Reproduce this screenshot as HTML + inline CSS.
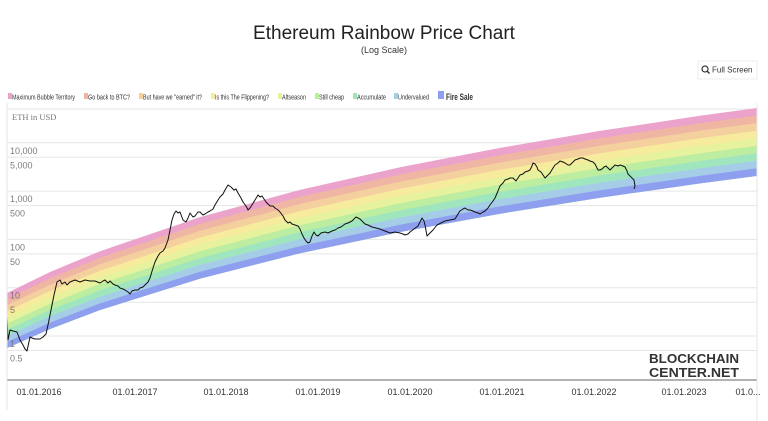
<!DOCTYPE html>
<html><head><meta charset="utf-8"><style>
html,body{margin:0;padding:0;background:#fff;width:768px;height:421px;overflow:hidden;font-family:"Liberation Sans",Arial,sans-serif}
svg{position:absolute;left:0;top:0}
</style></head><body>
<svg width="768" height="421" viewBox="0 0 768 421" xmlns="http://www.w3.org/2000/svg" font-family="Liberation Sans, Arial, sans-serif">
<text x="384" y="39" text-anchor="middle" font-size="19" fill="#222">Ethereum Rainbow Price Chart</text>
<text x="384" y="53" text-anchor="middle" font-size="9" fill="#333">(Log Scale)</text>
<rect x="698" y="61" width="59" height="18" fill="#fff" stroke="#eee"/>
<circle cx="705" cy="69" r="3" fill="none" stroke="#333" stroke-width="1.2"/>
<line x1="707" y1="71" x2="709.5" y2="73.5" stroke="#333" stroke-width="1.4"/>
<text x="712" y="72.5" font-size="8" fill="#333">Full Screen</text>

<g font-size="7" fill="#333" lengthAdjust="spacingAndGlyphs">
<rect x="8" y="93" width="4" height="6" fill="#eba3cb"/><text x="12" y="99.5" textLength="63" lengthAdjust="spacingAndGlyphs">Maximum Bubble Territory</text>
<rect x="84" y="93" width="4" height="6" fill="#f0b6a4"/><text x="88" y="99.5" textLength="42" lengthAdjust="spacingAndGlyphs">Go back to BTC?</text>
<rect x="139" y="93" width="4" height="6" fill="#f5d09f"/><text x="143" y="99.5" textLength="59" lengthAdjust="spacingAndGlyphs">But have we "earned" it?</text>
<rect x="211" y="93" width="4" height="6" fill="#f7eb9e"/><text x="215" y="99.5" textLength="54" lengthAdjust="spacingAndGlyphs">Is this The Flippening?</text>
<rect x="278" y="93" width="4" height="6" fill="#e6f29e"/><text x="282" y="99.5" textLength="24" lengthAdjust="spacingAndGlyphs">Altseason</text>
<rect x="315" y="93" width="4" height="6" fill="#bdeda0"/><text x="319" y="99.5" textLength="25" lengthAdjust="spacingAndGlyphs">Still cheap</text>
<rect x="353" y="93" width="4" height="6" fill="#9fe6bf"/><text x="357" y="99.5" textLength="29" lengthAdjust="spacingAndGlyphs">Accumulate</text>
<rect x="394" y="93" width="4" height="6" fill="#a6cde8"/><text x="398" y="99.5" textLength="31" lengthAdjust="spacingAndGlyphs">Undervalued</text>
<rect x="438" y="91" width="6" height="8" fill="#8f9ff0"/><text x="446" y="100" font-size="9" font-weight="bold" textLength="27" lengthAdjust="spacingAndGlyphs">Fire Sale</text>
</g>

<g stroke="#e6e6e6">
<line x1="7" y1="109" x2="757" y2="109"/>
<line x1="7" y1="142.8" x2="757" y2="142.8"/><line x1="7" y1="157.3" x2="757" y2="157.3"/>
<line x1="7" y1="191.1" x2="757" y2="191.1"/><line x1="7" y1="205.6" x2="757" y2="205.6"/>
<line x1="7" y1="239.4" x2="757" y2="239.4"/><line x1="7" y1="253.9" x2="757" y2="253.9"/>
<line x1="7" y1="287.7" x2="757" y2="287.7"/><line x1="7" y1="302.2" x2="757" y2="302.2"/>
<line x1="7" y1="336" x2="757" y2="336"/><line x1="7" y1="350.5" x2="757" y2="350.5"/>
</g>

<g>
<polygon fill="#eba3cb" points="7,293.0 50,272.0 100,251.2 200,217.1 300,189.9 400,167.3 500,147.9 600,130.9 700,115.8 757,108.0 757,175.9 700,183.4 600,197.7 500,213.7 400,232.0 300,253.2 200,278.6 100,310.0 50,329.0 7,348.0"/>
<polygon fill="#f0b6a4" points="7,299.1 50,278.3 100,257.7 200,223.9 300,196.9 400,174.5 500,155.2 600,138.3 700,123.3 757,115.5 757,175.9 700,183.4 600,197.7 500,213.7 400,232.0 300,253.2 200,278.6 100,310.0 50,329.0 7,348.0"/>
<polygon fill="#f5d09f" points="7,305.2 50,284.7 100,264.3 200,230.8 300,204.0 400,181.7 500,162.5 600,145.7 700,130.8 757,123.1 757,175.9 700,183.4 600,197.7 500,213.7 400,232.0 300,253.2 200,278.6 100,310.0 50,329.0 7,348.0"/>
<polygon fill="#f7eb9e" points="7,311.3 50,291.0 100,270.8 200,237.6 300,211.0 400,188.9 500,169.8 600,153.2 700,138.3 757,130.6 757,175.9 700,183.4 600,197.7 500,213.7 400,232.0 300,253.2 200,278.6 100,310.0 50,329.0 7,348.0"/>
<polygon fill="#e6f29e" points="7,317.4 50,297.3 100,277.3 200,244.4 300,218.0 400,196.1 500,177.1 600,160.6 700,145.8 757,138.2 757,175.9 700,183.4 600,197.7 500,213.7 400,232.0 300,253.2 200,278.6 100,310.0 50,329.0 7,348.0"/>
<polygon fill="#bdeda0" points="7,323.6 50,303.7 100,283.9 200,251.3 300,225.1 400,203.3 500,184.5 600,168.0 700,153.4 757,145.7 757,175.9 700,183.4 600,197.7 500,213.7 400,232.0 300,253.2 200,278.6 100,310.0 50,329.0 7,348.0"/>
<polygon fill="#9fe6bf" points="7,329.7 50,310.0 100,290.4 200,258.1 300,232.1 400,210.4 500,191.8 600,175.4 700,160.9 757,153.2 757,175.9 700,183.4 600,197.7 500,213.7 400,232.0 300,253.2 200,278.6 100,310.0 50,329.0 7,348.0"/>
<polygon fill="#a6cde8" points="7,335.8 50,316.3 100,296.9 200,264.9 300,239.1 400,217.6 500,199.1 600,182.8 700,168.4 757,160.8 757,175.9 700,183.4 600,197.7 500,213.7 400,232.0 300,253.2 200,278.6 100,310.0 50,329.0 7,348.0"/>
<polygon fill="#8f9ff0" points="7,341.9 50,322.6 100,303.4 200,271.7 300,246.1 400,224.8 500,206.4 600,190.3 700,175.9 757,168.3 757,175.9 700,183.4 600,197.7 500,213.7 400,232.0 300,253.2 200,278.6 100,310.0 50,329.0 7,348.0"/>
</g>

<g font-size="9" fill="#666" opacity="0.85">
<text x="10" y="153.8">10,000</text><text x="10" y="168.3">5,000</text>
<text x="10" y="202.1">1,000</text><text x="10" y="216.6">500</text>
<text x="10" y="250.4">100</text><text x="10" y="264.9">50</text>
<text x="10" y="298.7">10</text><text x="10" y="313.2">5</text>
<text x="10" y="347">1</text><text x="10" y="361.5">0.5</text>
</g>

<polyline fill="none" stroke="#111" stroke-width="1" stroke-linejoin="round" points="7,317 8,340 10,330 13,331 17,332 20,340 23,345 25,349 27,351 30,337 32,338 35,339 40,339 43,337 46,334 48,325 51,310 54,295 57,282 60,280 62,284 65,282 67,285 70,282 75,280 80,282 85,280 90,281 95,281 100,283 103,281 105,280 108,283 110,281 113,284 115,285 118,286 120,288 123,289 125,290 128,292 130,294 132,291 135,290 138,290 140,288 143,287 145,285 148,282 150,278 153,268 155,262 158,256 160,253 163,251 165,248 168,240 170,230 172,220 174,214 176,211 178,213 180,212 183,220 186,222 188,218 190,213 193,217 195,216 198,212 200,212 203,215 205,214 208,212 210,211 213,209 215,205 218,200 220,197 223,194 225,190 228,185 231,187 234,190 236,189 238,193 241,198 243,202 246,206 248,210 250,208 252,205 255,200 258,195 260,197 262,196 264,199 266,202 268,204 270,206 273,206 275,208 278,210 280,212 283,216 285,220 288,223 290,222 292,224 295,225 298,226 300,229 302,234 304,238 306,241 308,243 310,242 312,236 314,232 316,235 318,236 321,233 325,232 328,233 332,231 335,230 338,228 341,227 345,224 348,223 352,221 354,219 356,217 358,218 360,219 363,222 365,224 368,225 372,227 376,228 380,229 385,231 390,233 395,232 400,233 403,234 405,235 408,234 410,232 414,229 418,226 420,222 422,218 424,221 425,225 427,236 430,233 433,230 437,225 441,223 445,221 450,220 455,219 458,214 460,211 463,209 465,208 468,210 470,210 473,211 475,212 478,213 480,214 483,212 485,211 488,208 490,205 493,201 495,198 498,191 500,186 503,183 505,180 508,179 510,178 513,178 516,181 518,178 520,175 523,174 525,172 528,171 530,170 532,166 533,163 535,164 537,167 538,170 541,172 543,175 545,178 548,175 550,173 553,168 555,165 558,163 560,161 563,162 565,163 568,165 570,165 573,162 575,160 578,159 580,158 583,158 585,159 588,160 590,161 593,162 595,164 597,168 598,170 600,170 602,169 604,167 606,166 608,168 610,170 613,167 615,165 618,166 620,165 623,166 625,167 627,171 628,174 630,176 632,178 634,180 635,186 634,189"/>

<text x="649" y="363" font-size="13" font-weight="bold" fill="#333" textLength="90" lengthAdjust="spacingAndGlyphs">BLOCKCHAIN</text>
<text x="649" y="377" font-size="13" font-weight="bold" fill="#333" textLength="90" lengthAdjust="spacingAndGlyphs">CENTER.NET</text>
<text x="12" y="120" font-size="8.5" fill="#777" font-family="Liberation Serif, serif">ETH in USD</text>
<line x1="7" y1="380" x2="757" y2="380" stroke="#666" stroke-width="1"/>
<line x1="7" y1="103" x2="7" y2="410" stroke="#e4e4e4"/>
<line x1="757" y1="103" x2="757" y2="421" stroke="#e4e4e4"/>
<g font-size="9" fill="#333" text-anchor="middle">
<text x="39" y="395">01.01.2016</text><text x="135" y="395">01.01.2017</text><text x="226" y="395">01.01.2018</text>
<text x="318" y="395">01.01.2019</text><text x="410" y="395">01.01.2020</text><text x="502" y="395">01.01.2021</text>
<text x="594" y="395">01.01.2022</text><text x="684" y="395">01.01.2023</text><text x="748" y="395">01.0...</text>
</g>
</svg>
</body></html>
